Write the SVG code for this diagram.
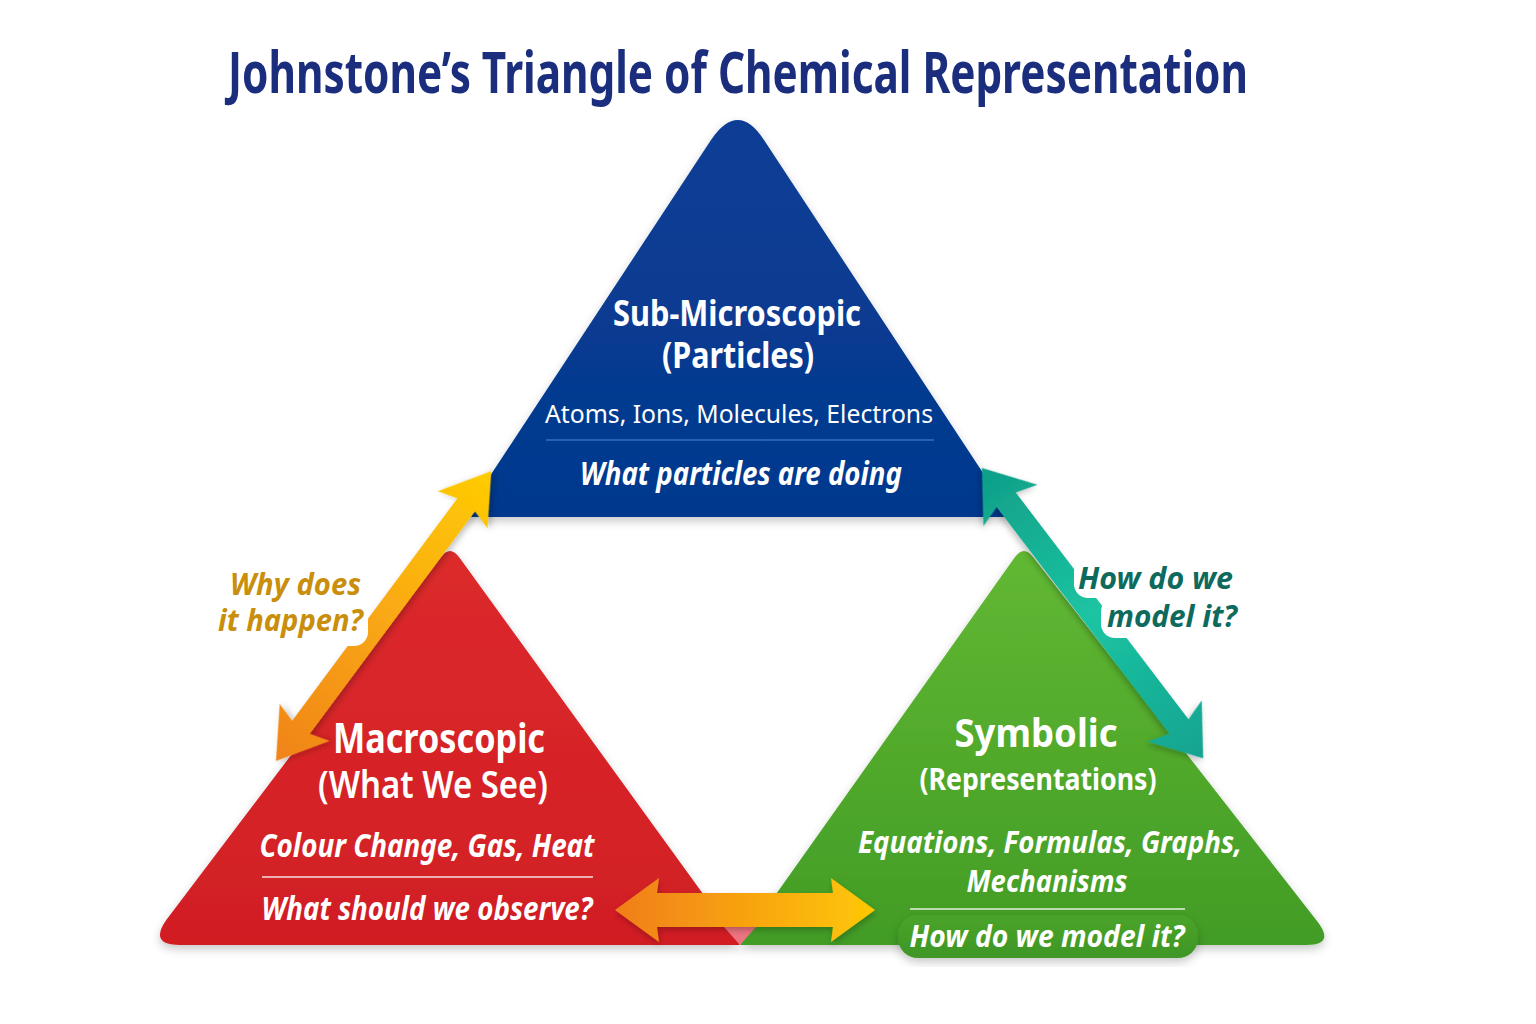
<svg xmlns="http://www.w3.org/2000/svg" width="1536" height="1024" viewBox="0 0 1536 1024">
  <defs>
    <style>
      .f { font-family: "Noto Sans", "Open Sans", "Liberation Sans", sans-serif; }
      .title { font-size: 58px; font-weight: 700; fill: #1B2E7E; }
      .wh { fill: #ffffff; }
      .hd { font-weight: 700; }
      .bi { font-weight: 700; font-style: italic; }
      .sep { stroke-width: 1.5; }
      .lblY { fill: #C98F0C; font-size: 30px; font-weight: 700; font-style: italic; }
      .lblT { fill: #0E6A5C; font-size: 30px; font-weight: 700; font-style: italic; }
    </style>
    <linearGradient id="gBlue" x1="0" y1="0" x2="0" y2="1">
      <stop offset="0" stop-color="#0A3D95"/>
      <stop offset="1" stop-color="#04398E"/>
    </linearGradient>
    <linearGradient id="gRed" x1="0" y1="0" x2="0" y2="1">
      <stop offset="0" stop-color="#DC2A2C"/>
      <stop offset="1" stop-color="#D11E24"/>
    </linearGradient>
    <linearGradient id="gGreen" x1="0" y1="0" x2="0" y2="1">
      <stop offset="0" stop-color="#62B832"/>
      <stop offset="1" stop-color="#429C26"/>
    </linearGradient>
    <linearGradient id="gPill" x1="0" y1="0" x2="0" y2="1">
      <stop offset="0" stop-color="#4AA42A"/>
      <stop offset="1" stop-color="#3F9625"/>
    </linearGradient>
    <linearGradient id="gYel" gradientUnits="userSpaceOnUse" x1="0" y1="0" x2="361" y2="0">
      <stop offset="0" stop-color="#F0831A"/>
      <stop offset="0.5" stop-color="#F9A814"/>
      <stop offset="1" stop-color="#FFCC02"/>
    </linearGradient>
    <linearGradient id="gTeal" gradientUnits="userSpaceOnUse" x1="0" y1="0" x2="365" y2="0">
      <stop offset="0" stop-color="#0F9E88"/>
      <stop offset="0.5" stop-color="#1CC4A2"/>
      <stop offset="1" stop-color="#12A390"/>
    </linearGradient>
    <linearGradient id="gOr" gradientUnits="userSpaceOnUse" x1="0" y1="0" x2="260" y2="0">
      <stop offset="0" stop-color="#F07E1A"/>
      <stop offset="1" stop-color="#FFC805"/>
    </linearGradient>
    <filter id="sh" x="-10%" y="-10%" width="120%" height="130%">
      <feDropShadow dx="0" dy="4" stdDeviation="5" flood-color="#000" flood-opacity="0.22"/>
    </filter>
    <filter id="shA" x="-20%" y="-20%" width="140%" height="140%">
      <feDropShadow dx="1" dy="3" stdDeviation="3" flood-color="#000" flood-opacity="0.25"/>
    </filter>
  </defs>

  <rect width="1536" height="1024" fill="#ffffff"/>

  <text class="f title" x="738" y="93" text-anchor="middle" textLength="1020" lengthAdjust="spacingAndGlyphs">Johnstone’s Triangle of Chemical Representation</text>

  <!-- Top node: Sub-Microscopic -->
  <g id="node-submicroscopic">
    <path d="M 711,140 Q 738,100 764,140 L 1012,517 L 463,517 Z" fill="url(#gBlue)" filter="url(#sh)"/>
    <text class="f wh hd" x="737" y="326" font-size="35" text-anchor="middle" textLength="248" lengthAdjust="spacingAndGlyphs">Sub-Microscopic</text>
    <text class="f wh hd" x="738" y="368" font-size="35" text-anchor="middle" textLength="152" lengthAdjust="spacingAndGlyphs">(Particles)</text>
    <text class="f wh" x="739" y="423" font-size="25" text-anchor="middle" textLength="388" lengthAdjust="spacingAndGlyphs">Atoms, Ions, Molecules, Electrons</text>
    <line class="sep" x1="546" y1="440" x2="934" y2="440" stroke="#3A6CC0"/>
    <text class="f wh bi" x="741" y="485" font-size="32" text-anchor="middle" textLength="322" lengthAdjust="spacingAndGlyphs">What particles are doing</text>
  </g>

  <!-- Bottom-left node: Macroscopic -->
  <g id="node-macroscopic">
    <path d="M 441,557 Q 450,545 459,557 L 740,945 L 180,945 Q 148,945 167,919 Z" fill="url(#gRed)" filter="url(#sh)"/>
    <text class="f wh hd" x="439" y="753" font-size="41" text-anchor="middle" textLength="212" lengthAdjust="spacingAndGlyphs">Macroscopic</text>
    <text class="f wh" x="433" y="798" font-size="37" font-weight="600" text-anchor="middle" textLength="230" lengthAdjust="spacingAndGlyphs">(What We See)</text>
    <text class="f wh bi" x="427" y="857" font-size="32" text-anchor="middle" textLength="335" lengthAdjust="spacingAndGlyphs">Colour Change, Gas, Heat</text>
    <line class="sep" x1="262" y1="877" x2="593" y2="877" stroke="#ffffff" stroke-opacity="0.85"/>
    <text class="f wh bi" x="427" y="920" font-size="32" text-anchor="middle" textLength="331" lengthAdjust="spacingAndGlyphs">What should we observe?</text>
  </g>

  <!-- Bottom-right node: Symbolic -->
  <g id="node-symbolic">
    <path d="M 1015,557 Q 1024,545 1033,557 L 1317,921 Q 1336,945 1306,945 L 740,945 Z" fill="url(#gGreen)" filter="url(#sh)"/>
    <text class="f wh hd" x="1036" y="747" font-size="40" text-anchor="middle" textLength="163" lengthAdjust="spacingAndGlyphs">Symbolic</text>
    <text class="f wh hd" x="1038" y="790" font-size="31" text-anchor="middle" textLength="237" lengthAdjust="spacingAndGlyphs">(Representations)</text>
    <text class="f wh bi" x="1050" y="853" font-size="31" text-anchor="middle" textLength="384" lengthAdjust="spacingAndGlyphs">Equations, Formulas, Graphs,</text>
    <text class="f wh bi" x="1047" y="892" font-size="31" text-anchor="middle" textLength="161" lengthAdjust="spacingAndGlyphs">Mechanisms</text>
    <line class="sep" x1="910" y1="909" x2="1185" y2="909" stroke="#ffffff" stroke-opacity="0.85"/>
    <rect x="898" y="915" width="300" height="43" rx="20" fill="url(#gPill)" filter="url(#sh)"/>
    <text class="f wh bi" x="1047" y="947" font-size="31" text-anchor="middle" textLength="275" lengthAdjust="spacingAndGlyphs">How do we model it?</text>
  </g>

  <!-- Connectors -->
  <g id="connectors">
    <polygon points="724,927 756,927 740,945" fill="#EC7480"/>
    <g id="arrow-macro-sub" transform="translate(276,761) rotate(-53.4)" filter="url(#shA)">
      <polygon points="0,0 48,-31 42,-11 319,-11 313,-31 361,0 313,31 319,11 42,11 48,31" fill="url(#gYel)"/>
    </g>
    <g id="arrow-sub-symbolic" transform="translate(982,468) rotate(52.7)" filter="url(#shA)">
      <polygon points="0,0 47,-34 40,-12 325,-12 318,-34 365,0 318,34 325,12 40,12 47,34" fill="url(#gTeal)"/>
    </g>
    <g id="arrow-macro-symbolic" transform="translate(615,910)" filter="url(#shA)">
      <polygon points="0,0 44,-32 42,-17 218,-17 216,-32 260,0 216,32 218,17 42,17 44,32" fill="url(#gOr)"/>
    </g>
  </g>

  <!-- Connector labels -->
  <g id="label-why">
    <rect x="222" y="562" width="146" height="42" rx="14" fill="#ffffff"/>
    <rect x="210" y="600" width="158" height="46" rx="14" fill="#ffffff"/>
    <text class="f lblY" x="361" y="595" text-anchor="end" textLength="131" lengthAdjust="spacingAndGlyphs">Why does</text>
    <text class="f lblY" x="363" y="631" text-anchor="end" textLength="145" lengthAdjust="spacingAndGlyphs">it happen?</text>
  </g>
  <g id="label-how">
    <rect x="1074" y="558" width="172" height="40" rx="14" fill="#ffffff"/>
    <rect x="1101" y="598" width="145" height="40" rx="14" fill="#ffffff"/>
    <text class="f lblT" x="1078" y="589" textLength="155" lengthAdjust="spacingAndGlyphs">How do we</text>
    <text class="f lblT" x="1107" y="627" textLength="130" lengthAdjust="spacingAndGlyphs">model it?</text>
  </g>
</svg>
